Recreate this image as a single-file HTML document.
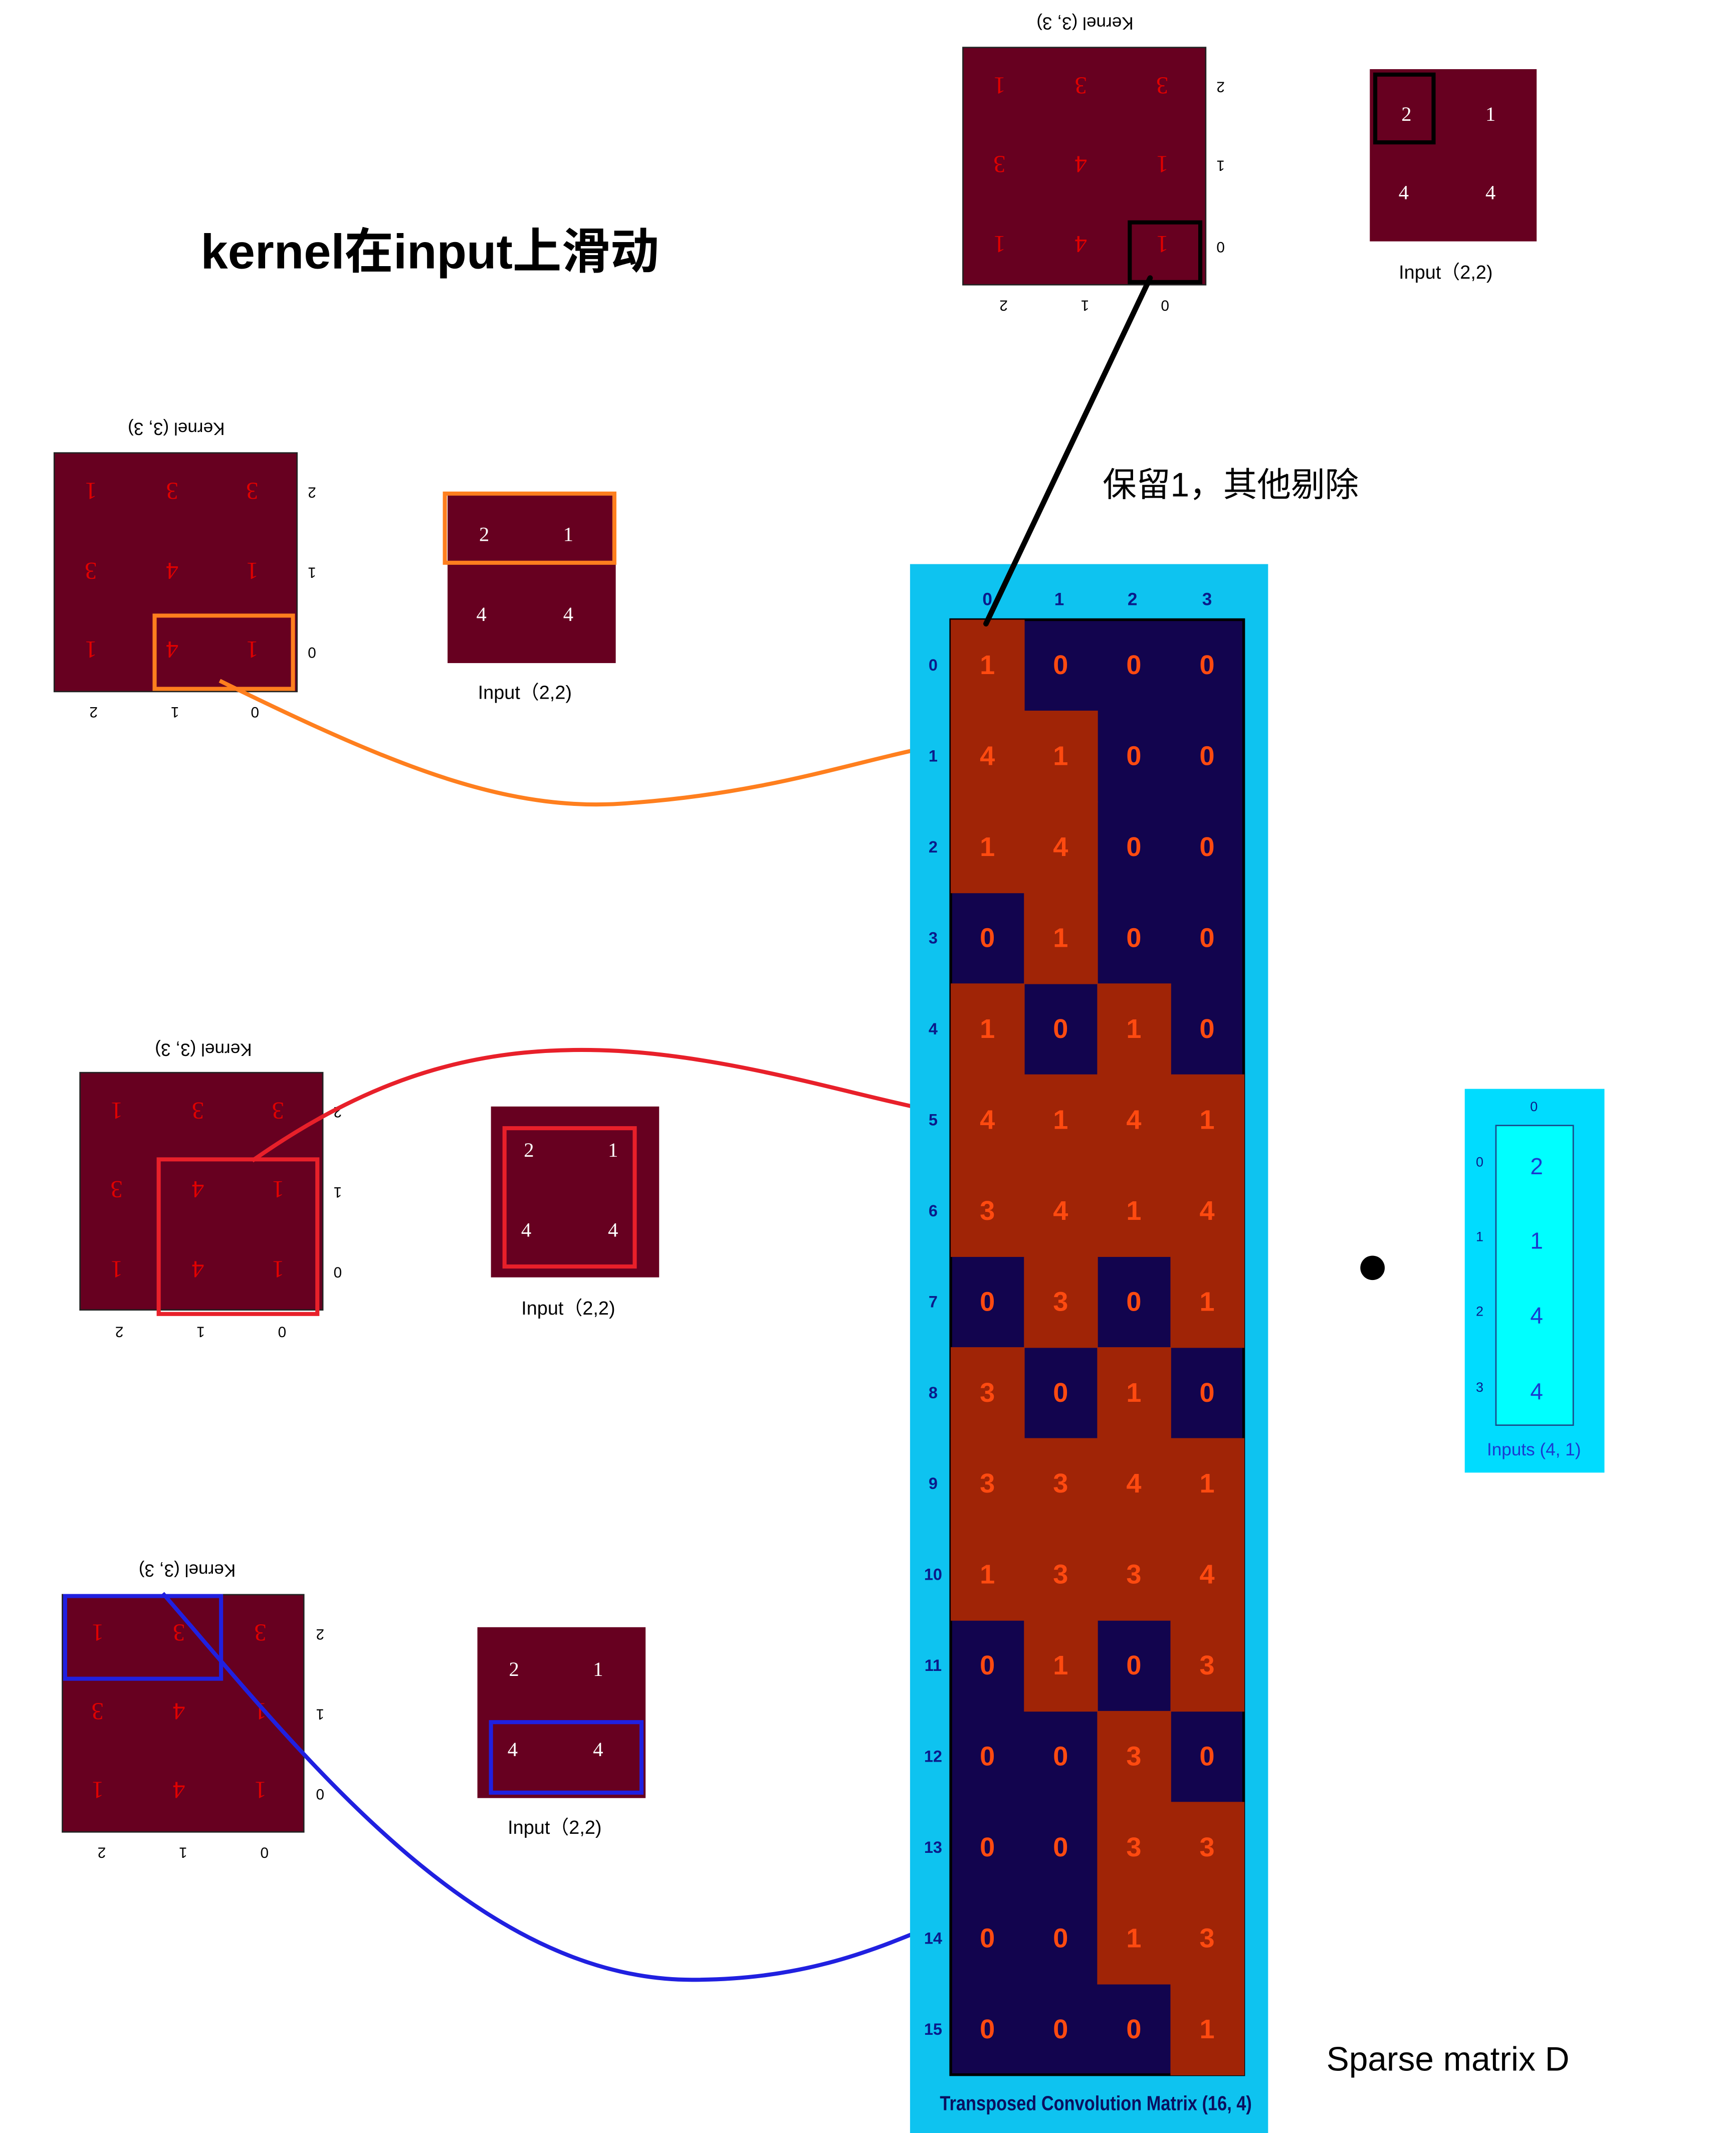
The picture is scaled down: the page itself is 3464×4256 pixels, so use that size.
<!DOCTYPE html>
<html><head><meta charset="utf-8"><style>html,body{margin:0;padding:0;background:#fff}svg{display:block}</style></head>
<body>
<svg width="3464" height="4256" viewBox="0 0 1280 1573" preserveAspectRatio="none" xmlns="http://www.w3.org/2000/svg" font-family="'Liberation Sans','Noto Sans CJK SC',sans-serif">
<rect width="1280" height="1573" fill="#fff"/>
<text x="148" y="198" font-size="36" font-weight="bold" fill="#000">kernel在input上滑动</text>

<!-- Top kernel -->
<g>
<rect x="710" y="35" width="179" height="175" fill="#670020" stroke="#222" stroke-width="1"/>
<text transform="rotate(180 800 17)" x="800" y="17" font-size="13" text-anchor="middle" dominant-baseline="central" fill="#000">Kernel (3, 3)</text>
<g font-family="'Liberation Serif',serif" font-size="18" fill="#e00000" text-anchor="middle" dominant-baseline="central">
<text transform="rotate(180 737 63)" x="737" y="63">1</text><text transform="rotate(180 797 63)" x="797" y="63">3</text><text transform="rotate(180 857 63)" x="857" y="63">3</text>
<text transform="rotate(180 737 121)" x="737" y="121">3</text><text transform="rotate(180 797 121)" x="797" y="121">4</text><text transform="rotate(180 857 121)" x="857" y="121">1</text>
<text transform="rotate(180 737 180)" x="737" y="180">1</text><text transform="rotate(180 797 180)" x="797" y="180">4</text><text transform="rotate(180 857 180)" x="857" y="180">1</text>
</g>
<g font-size="11" fill="#000" text-anchor="middle" dominant-baseline="central">
<text transform="rotate(180 900 64)" x="900" y="64">2</text><text transform="rotate(180 900 122)" x="900" y="122">1</text><text transform="rotate(180 900 182)" x="900" y="182">0</text>
<text transform="rotate(180 740 225)" x="740" y="225">2</text><text transform="rotate(180 800 225)" x="800" y="225">1</text><text transform="rotate(180 859 225)" x="859" y="225">0</text>
</g>
<rect x="833" y="164" width="52" height="44" fill="none" stroke="#000" stroke-width="3"/>
</g>
<!-- Top input -->
<rect x="1010" y="51" width="123" height="127" fill="#670020"/>
<g font-family="'Liberation Serif',serif" font-size="15" fill="#fff" text-anchor="middle" dominant-baseline="central">
<text x="1037" y="84">2</text><text x="1099" y="84">1</text><text x="1035" y="142">4</text><text x="1099" y="142">4</text></g>
<rect x="1014" y="55" width="43" height="50" fill="none" stroke="#000" stroke-width="3"/>
<text x="1066" y="201" font-size="14" text-anchor="middle" dominant-baseline="central" fill="#000">Input（2,2)</text>
<text x="813" y="366" font-size="25" fill="#000">保留1，其他剔除</text>

<!-- Kernel 2 -->
<rect x="40" y="334" width="179" height="176" fill="#670020" stroke="#222" stroke-width="1"/>
<text transform="rotate(180 130 316)" x="130" y="316" font-size="13" text-anchor="middle" dominant-baseline="central">Kernel (3, 3)</text>
<g font-family="'Liberation Serif',serif" font-size="18" fill="#e00000" text-anchor="middle" dominant-baseline="central">
<text transform="rotate(180 67 362)" x="67" y="362">1</text><text transform="rotate(180 127 362)" x="127" y="362">3</text><text transform="rotate(180 186 362)" x="186" y="362">3</text>
<text transform="rotate(180 67 421)" x="67" y="421">3</text><text transform="rotate(180 127 421)" x="127" y="421">4</text><text transform="rotate(180 186 421)" x="186" y="421">1</text>
<text transform="rotate(180 67 479)" x="67" y="479">1</text><text transform="rotate(180 127 479)" x="127" y="479">4</text><text transform="rotate(180 186 479)" x="186" y="479">1</text>
</g>
<g font-size="11" text-anchor="middle" dominant-baseline="central">
<text transform="rotate(180 230 363)" x="230" y="363">2</text><text transform="rotate(180 230 422)" x="230" y="422">1</text><text transform="rotate(180 230 481)" x="230" y="481">0</text>
<text transform="rotate(180 69 525)" x="69" y="525">2</text><text transform="rotate(180 129 525)" x="129" y="525">1</text><text transform="rotate(180 188 525)" x="188" y="525">0</text></g>
<rect x="114" y="454" width="102" height="54" fill="none" stroke="#ff7f1e" stroke-width="3"/>
<rect x="330" y="364" width="124" height="125" fill="#670020"/>
<g font-family="'Liberation Serif',serif" font-size="15" fill="#fff" text-anchor="middle" dominant-baseline="central">
<text x="357" y="394">2</text><text x="419" y="394">1</text><text x="355" y="453">4</text><text x="419" y="453">4</text></g>
<rect x="328" y="364" width="125" height="51" fill="none" stroke="#ff7f1e" stroke-width="3"/>
<text x="387" y="511" font-size="14" text-anchor="middle" dominant-baseline="central">Input（2,2)</text>
<path d="M162 502 C 300 570, 380 600, 467 592 C 560 585, 620 565, 675 553" fill="none" stroke="#ff7f1e" stroke-width="3"/>

<!-- Kernel 3 -->
<rect x="59" y="791" width="179" height="175" fill="#670020" stroke="#222" stroke-width="1"/>
<text transform="rotate(180 150 774)" x="150" y="774" font-size="13" text-anchor="middle" dominant-baseline="central">Kernel (3, 3)</text>
<g font-family="'Liberation Serif',serif" font-size="18" fill="#e00000" text-anchor="middle" dominant-baseline="central">
<text transform="rotate(180 86 819)" x="86" y="819">1</text><text transform="rotate(180 146 819)" x="146" y="819">3</text><text transform="rotate(180 205 819)" x="205" y="819">3</text>
<text transform="rotate(180 86 877)" x="86" y="877">3</text><text transform="rotate(180 146 877)" x="146" y="877">4</text><text transform="rotate(180 205 877)" x="205" y="877">1</text>
<text transform="rotate(180 86 936)" x="86" y="936">1</text><text transform="rotate(180 146 936)" x="146" y="936">4</text><text transform="rotate(180 205 936)" x="205" y="936">1</text>
</g>
<g font-size="11" text-anchor="middle" dominant-baseline="central">
<text transform="rotate(180 249 820)" x="249" y="820">2</text><text transform="rotate(180 249 879)" x="249" y="879">1</text><text transform="rotate(180 249 938)" x="249" y="938">0</text>
<text transform="rotate(180 88 982)" x="88" y="982">2</text><text transform="rotate(180 148 982)" x="148" y="982">1</text><text transform="rotate(180 208 982)" x="208" y="982">0</text></g>
<rect x="117" y="855" width="117" height="114" fill="none" stroke="#e8202a" stroke-width="3"/>
<rect x="362" y="816" width="124" height="126" fill="#670020"/>
<g font-family="'Liberation Serif',serif" font-size="15" fill="#fff" text-anchor="middle" dominant-baseline="central">
<text x="390" y="848">2</text><text x="452" y="848">1</text><text x="388" y="907">4</text><text x="452" y="907">4</text></g>
<rect x="372" y="832" width="96" height="102" fill="none" stroke="#e8202a" stroke-width="3"/>
<text x="419" y="965" font-size="14" text-anchor="middle" dominant-baseline="central">Input（2,2)</text>
<path d="M186 856 C 280 790, 360 770, 456 775 C 540 780, 620 805, 682 818" fill="none" stroke="#e8202a" stroke-width="3"/>

<!-- Kernel 4 -->
<rect x="46" y="1176" width="178" height="175" fill="#670020" stroke="#222" stroke-width="1"/>
<text transform="rotate(180 138 1158)" x="138" y="1158" font-size="13" text-anchor="middle" dominant-baseline="central">Kernel (3, 3)</text>
<g font-family="'Liberation Serif',serif" font-size="18" fill="#e00000" text-anchor="middle" dominant-baseline="central">
<text transform="rotate(180 72 1204)" x="72" y="1204">1</text><text transform="rotate(180 132 1204)" x="132" y="1204">3</text><text transform="rotate(180 192 1204)" x="192" y="1204">3</text>
<text transform="rotate(180 72 1262)" x="72" y="1262">3</text><text transform="rotate(180 132 1262)" x="132" y="1262">4</text><text transform="rotate(180 192 1262)" x="192" y="1262">1</text>
<text transform="rotate(180 72 1320)" x="72" y="1320">1</text><text transform="rotate(180 132 1320)" x="132" y="1320">4</text><text transform="rotate(180 192 1320)" x="192" y="1320">1</text>
</g>
<g font-size="11" text-anchor="middle" dominant-baseline="central">
<text transform="rotate(180 236 1205)" x="236" y="1205">2</text><text transform="rotate(180 236 1264)" x="236" y="1264">1</text><text transform="rotate(180 236 1323)" x="236" y="1323">0</text>
<text transform="rotate(180 75 1366)" x="75" y="1366">2</text><text transform="rotate(180 135 1366)" x="135" y="1366">1</text><text transform="rotate(180 195 1366)" x="195" y="1366">0</text></g>
<rect x="48" y="1177" width="115" height="61" fill="none" stroke="#2020e0" stroke-width="3"/>
<rect x="352" y="1200" width="124" height="126" fill="#670020"/>
<g font-family="'Liberation Serif',serif" font-size="15" fill="#fff" text-anchor="middle" dominant-baseline="central">
<text x="379" y="1231">2</text><text x="441" y="1231">1</text><text x="378" y="1290">4</text><text x="441" y="1290">4</text></g>
<rect x="362" y="1270" width="111" height="52" fill="none" stroke="#2020e0" stroke-width="3"/>
<text x="409" y="1348" font-size="14" text-anchor="middle" dominant-baseline="central">Input（2,2)</text>
<path d="M120 1175 C 220 1290, 350 1460, 510 1460 C 590 1460, 640 1440, 688 1420" fill="none" stroke="#2020e0" stroke-width="3"/>

<!-- Big matrix -->
<rect x="671" y="416" width="264" height="1157" fill="#0ec3f0"/>
<rect x="701" y="457" width="216" height="1073" fill="#12044e" stroke="#000" stroke-width="2"/>
<g id="cells"></g>
<g font-size="13" font-weight="bold" fill="#0a1a8a" text-anchor="middle" dominant-baseline="central" font-family="'Liberation Sans Narrow','Liberation Sans',sans-serif">
<text x="728" y="442">0</text><text x="781" y="442">1</text><text x="835" y="442">2</text><text x="890" y="442">3</text>
</g>
<text x="808" y="1551" font-size="15" font-weight="bold" fill="#0a1060" text-anchor="middle" dominant-baseline="central" font-family="'Liberation Sans Narrow','Liberation Sans',sans-serif" textLength="230" lengthAdjust="spacingAndGlyphs">Transposed Convolution Matrix (16, 4)</text>
<g id="mat"></g>
<line x1="848" y1="205" x2="727" y2="460" stroke="#000" stroke-width="4" stroke-linecap="round"/>

<circle cx="1012" cy="935" r="9" fill="#000"/>
<rect x="1080" y="803" width="103" height="283" fill="#00dcff"/>
<rect x="1103" y="830" width="57" height="221" fill="#00ffff" stroke="#1a4a8a" stroke-width="1"/>
<g font-size="17" fill="#1a3ad0" text-anchor="middle" dominant-baseline="central" font-family="'Liberation Sans Narrow','Liberation Sans',sans-serif">
<text x="1133" y="860">2</text><text x="1133" y="915">1</text><text x="1133" y="970">4</text><text x="1133" y="1026">4</text></g>
<g font-size="10" fill="#0a1a8a" text-anchor="middle" dominant-baseline="central">
<text x="1131" y="816">0</text><text x="1091" y="857">0</text><text x="1091" y="912">1</text><text x="1091" y="967">2</text><text x="1091" y="1023">3</text></g>
<text x="1131" y="1069" font-size="13" fill="#1a3ad0" text-anchor="middle" dominant-baseline="central">Inputs (4, 1)</text>
<text x="978" y="1527" font-size="25" fill="#000">Sparse matrix D</text>
</svg>
<script>
(function(){
var M=[[1,0,0,0],[4,1,0,0],[1,4,0,0],[0,1,0,0],[1,0,1,0],[4,1,4,1],[3,4,1,4],[0,3,0,1],[3,0,1,0],[3,3,4,1],[1,3,3,4],[0,1,0,3],[0,0,3,0],[0,0,3,3],[0,0,1,3],[0,0,0,1]];
var ns="http://www.w3.org/2000/svg",cells=document.getElementById("cells"),mat=document.getElementById("mat");
var x0=701,y0=457,cw=54,rh=1073/16;
function el(t,a,p){var e=document.createElementNS(ns,t);for(var k in a)e.setAttribute(k,a[k]);p.appendChild(e);return e;}
for(var r=0;r<16;r++){
 var cy=y0+rh*r+rh/2;
 var t=el("text",{x:688,y:cy,"font-size":12,"font-weight":"bold",fill:"#0a1a8a","text-anchor":"middle","dominant-baseline":"central","font-family":"'Liberation Sans Narrow','Liberation Sans',sans-serif"},mat);t.textContent=r;
 for(var c=0;c<4;c++){
  var v=M[r][c];
  if(v)el("rect",{x:x0+c*cw,y:y0+rh*r,width:cw+0.5,height:rh+0.5,fill:"#a02406"},cells);
  var tt=el("text",{x:x0+c*cw+cw/2,y:cy,"font-size":20,"font-weight":"bold",fill:"#ff4a10","text-anchor":"middle","dominant-baseline":"central","font-family":"'Liberation Sans Narrow','Liberation Sans',sans-serif"},mat);tt.textContent=v;
 }
}
})();
</script>
</body></html>
